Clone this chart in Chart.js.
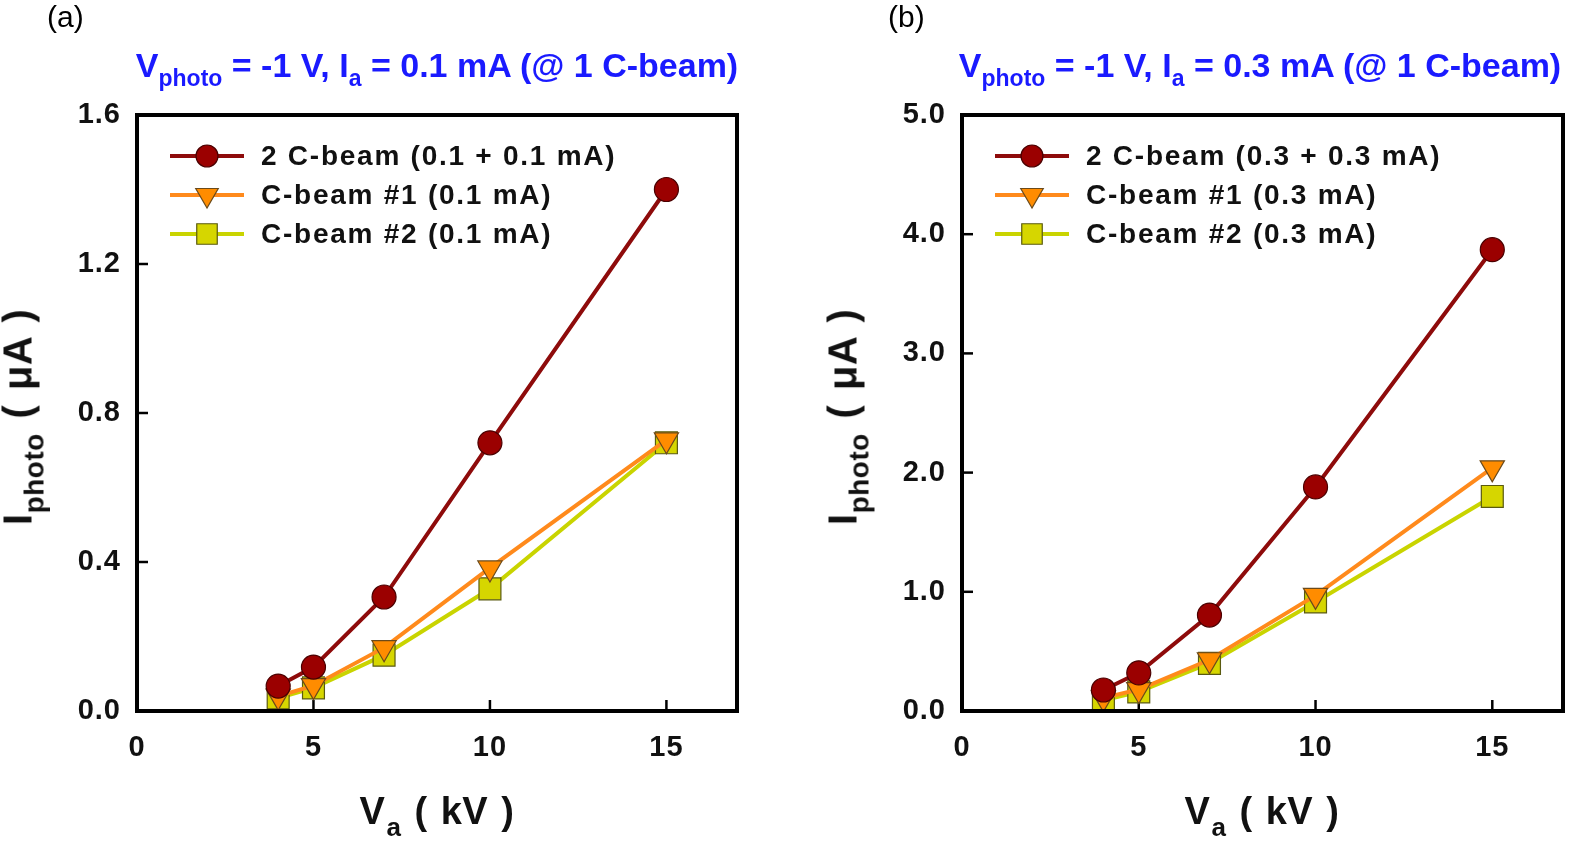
<!DOCTYPE html>
<html><head><meta charset="utf-8">
<script src="https://cdn.jsdelivr.net/npm/chart.js@4.4.1/dist/chart.umd.min.js"></script>
<style>
html,body{margin:0;padding:0;background:#fff}
body{width:1570px;height:843px;overflow:hidden;position:relative;font-family:"Liberation Sans",Arial,sans-serif}
.panel{position:absolute;top:0;width:800px;height:843px}
.panel canvas{position:absolute;left:0;top:0}
.lbl{position:absolute;top:2px;font-family:"Liberation Sans Narrow","Liberation Sans",sans-serif;font-size:30px;line-height:30px;color:#000;white-space:nowrap}
.title{position:absolute;top:48px;font-family:"Liberation Sans Narrow","Liberation Sans",sans-serif;font-weight:bold;font-size:34px;line-height:34px;color:#1a1aff;white-space:nowrap;transform:translateX(-50%)}
.title sub{font-size:23px;vertical-align:baseline;position:relative;top:9px}
.xt{position:absolute;top:792px;font-weight:bold;font-size:38px;line-height:38px;letter-spacing:0.5px;word-spacing:2px;color:#111;white-space:nowrap;transform:translateX(-50%)}
.xt sub{font-size:26px;vertical-align:baseline;position:relative;top:12px;margin-left:1px}
.yt{position:absolute;font-weight:bold;font-size:40px;line-height:40px;letter-spacing:0.5px;word-spacing:3px;color:#111;white-space:nowrap;transform:translate(-50%,-50%) rotate(-90deg)}
.yt sub{font-size:28px;vertical-align:baseline;position:relative;top:12px}
</style>
</head><body>
<div class="panel" style="left:0"><canvas id="ca" width="800" height="843"></canvas></div>
<div class="panel" style="left:785px"><canvas id="cb" width="800" height="843"></canvas></div>

<div class="lbl" style="left:47px">(a)</div>
<div class="lbl" style="left:888px">(b)</div>
<div class="title" style="left:437px">V<sub>photo</sub> = -1 V, I<sub>a</sub> = 0.1 mA (@ 1 C-beam)</div>
<div class="title" style="left:1260px">V<sub>photo</sub> = -1 V, I<sub>a</sub> = 0.3 mA (@ 1 C-beam)</div>
<div class="xt" style="left:437px">V<sub>a</sub> ( kV )</div>
<div class="xt" style="left:1262px">V<sub>a</sub> ( kV )</div>
<div class="yt" style="left:20px;top:417px">I<sub>photo</sub> ( μA )</div>
<div class="yt" style="left:845px;top:417px">I<sub>photo</sub> ( μA )</div>

<script>
// ---- data ----
const voltages = [4, 5, 7, 10, 15];
const xTicks = [0, 5, 10, 15];

const labelsA = ["2 C-beam (0.1 + 0.1 mA)", "C-beam #1 (0.1 mA)", "C-beam #2 (0.1 mA)"];
const twoBeamA = [0.067, 0.118, 0.306, 0.72, 1.40];
const beam1A   = [0.040, 0.068, 0.170, 0.384, 0.728];
const beam2A   = [0.035, 0.062, 0.150, 0.328, 0.720];
const yTicksA  = [0, 0.4, 0.8, 1.2, 1.6];

const labelsB = ["2 C-beam (0.3 + 0.3 mA)", "C-beam #1 (0.3 mA)", "C-beam #2 (0.3 mA)"];
const twoBeamB = [0.176, 0.32, 0.805, 1.88, 3.87];
const beam1B   = [0.11, 0.18, 0.43, 0.97, 2.04];
const beam2B   = [0.09, 0.16, 0.40, 0.915, 1.80];
const yTicksB  = [0, 1, 2, 3, 4, 5];

// ---- styles ----
const STYLES = [
  {line:'#8e0b0b', fill:'#9b0000', edge:'#4a0000', pointStyle:'circle', radius:12, rotation:0},
  {line:'#ff8a1c', fill:'#ff8c00', edge:'#6b4a1a', pointStyle:'triangle', radius:14, rotation:180},
  {line:'#c9d400', fill:'#d6d600', edge:'#5a5a10', pointStyle:'rect', radius:15.5, rotation:0}
];
const TICK_FONT = {family:'"Liberation Sans", Arial, sans-serif', size:29, weight:'bold'};

function toPts(ys){ return voltages.map((x,i)=>({x:x, y:ys[i]})); }

const decorPlugin = {
  id:'decor',
  beforeDraw(chart){ chart.ctx.letterSpacing = '1px'; },
  beforeDatasetsDraw(chart){
    const {ctx, chartArea:a, scales:{x, y}} = chart;
    ctx.save();
    ctx.strokeStyle = '#000'; ctx.lineWidth = 2.5;
    chart.options.plugins.decor.xt.forEach(v=>{
      if (v<=x.min || v>=x.max) return;
      const px = x.getPixelForValue(v);
      ctx.beginPath(); ctx.moveTo(px, a.bottom); ctx.lineTo(px, a.bottom-11); ctx.stroke();
    });
    chart.options.plugins.decor.yt.forEach(v=>{
      if (v<=y.min || v>=y.max) return;
      const py = y.getPixelForValue(v);
      ctx.beginPath(); ctx.moveTo(a.left, py); ctx.lineTo(a.left+11, py); ctx.stroke();
    });
    ctx.restore();
  },
  afterDraw(chart){
    const {ctx, chartArea:a} = chart;
    ctx.save();
    ctx.strokeStyle = '#000'; ctx.lineWidth = 4;
    ctx.strokeRect(a.left, a.top, a.right-a.left, a.bottom-a.top);
    // legend inside the plot
    const labels = chart.options.plugins.decor.labels;
    labels.forEach((t,i)=>{
      const st = STYLES[i];
      const ry = a.top + 41 + i*39;
      ctx.strokeStyle = st.line; ctx.lineWidth = 4;
      ctx.beginPath(); ctx.moveTo(a.left+33, ry); ctx.lineTo(a.left+107, ry); ctx.stroke();
      ctx.fillStyle = st.fill; ctx.strokeStyle = st.edge; ctx.lineWidth = 1.2;
      Chart.helpers.drawPoint(ctx, {pointStyle:st.pointStyle, radius:st.radius-1, rotation:st.rotation, borderWidth:1.2}, a.left+70, ry);
      ctx.fillStyle = '#111';
      ctx.font = 'bold 28px "Liberation Sans", Arial, sans-serif';
      ctx.letterSpacing = '1.75px';
      ctx.textBaseline = 'middle'; ctx.textAlign = 'left';
      ctx.fillText(t, a.left+124, ry+1);
    });
    ctx.restore();
  }
};

function makeChart(id, ys, labels, yTicks, ymax, padL, padR){
  const datasets = ys.map((arr,i)=>{
    const st = STYLES[i];
    return {
      label: labels[i], data: toPts(arr),
      borderColor: st.line, borderWidth: 4,
      pointStyle: st.pointStyle, pointRadius: st.radius, pointRotation: st.rotation,
      pointBackgroundColor: st.fill, pointBorderColor: st.edge, pointBorderWidth: 1.2,
      tension: 0, clip: false, fill: false
    };
  });
  return new Chart(document.getElementById(id), {
    type:'line',
    data:{datasets},
    options:{
      responsive:false, animation:false, devicePixelRatio:1,
      layout:{padding:{left:padL, right:padR, top:115, bottom:82}},
      plugins:{legend:{display:false}, tooltip:{enabled:false},
               decor:{xt:xTicks, yt:yTicks, labels:labels}},
      scales:{
        x:{type:'linear', min:0, max:17,
           afterBuildTicks:s=>{ s.ticks = xTicks.map(v=>({value:v})); },
           afterFit:s=>{ s.height = 50; },
           grid:{display:false, drawTicks:false}, border:{display:false},
           ticks:{font:TICK_FONT, color:'#111', padding:20, callback:v=>String(v)}},
        y:{type:'linear', min:0, max:ymax,
           afterBuildTicks:s=>{ s.ticks = yTicks.map(v=>({value:v})); },
           afterFit:s=>{ s.width = 60; },
           grid:{display:false, drawTicks:false}, border:{display:false},
           ticks:{font:TICK_FONT, color:'#111', padding:16, callback:v=>Number(v).toFixed(1)}}
      }
    },
    plugins:[decorPlugin]
  });
}

makeChart('ca', [twoBeamA, beam1A, beam2A], labelsA, yTicksA, 1.6, 77, 63);
makeChart('cb', [twoBeamB, beam1B, beam2B], labelsB, yTicksB, 5.0, 117, 22);
</script>
</body></html>
